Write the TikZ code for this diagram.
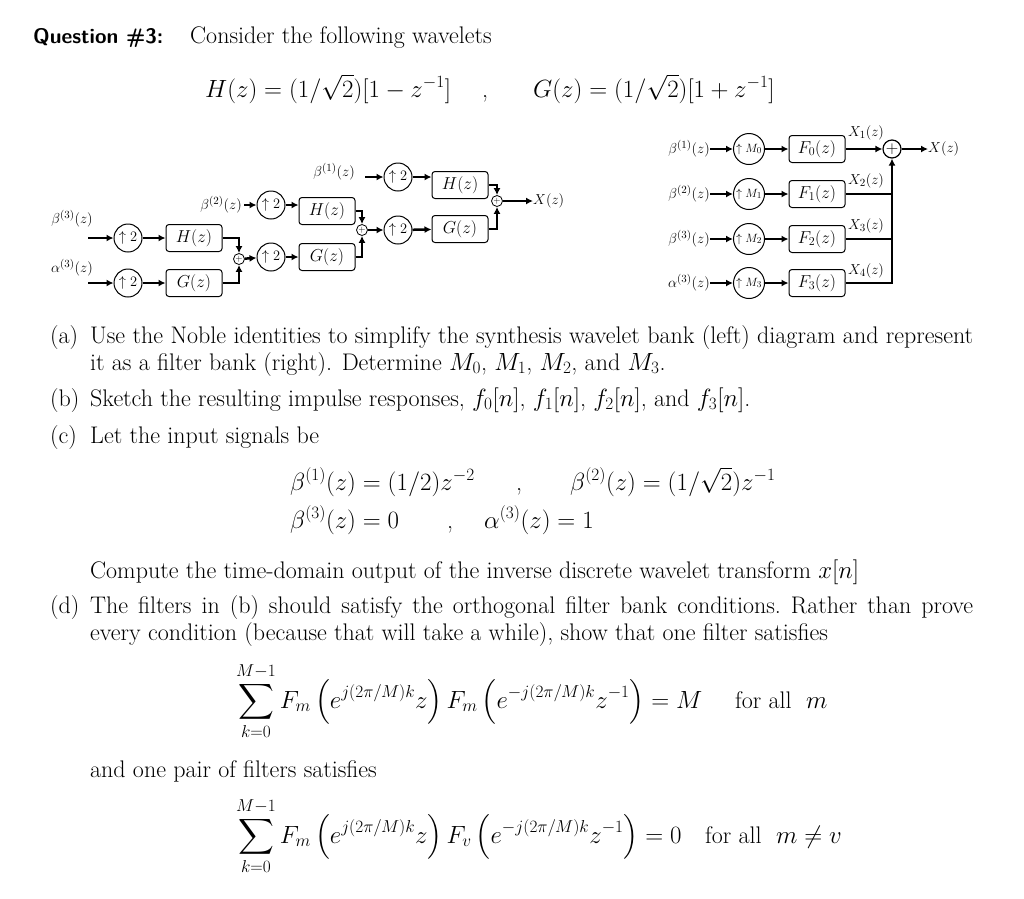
\documentclass[tikz,border=0pt]{standalone}
\usepackage{amsmath}
\usetikzlibrary{arrows.meta}
\begin{document}
\begin{tikzpicture}[x=1pt,y=-1pt,
 txt/.style={anchor=base west,inner sep=0pt,font=\fontsize{24}{29}\selectfont},
 up/.style={draw,circle,line width=1pt,minimum size=28pt,inner sep=0pt,font=\fontsize{15}{17}\selectfont},
 upm/.style={draw,circle,line width=1pt,minimum size=31pt,inner sep=0pt,font=\fontsize{13}{15}\selectfont},
 fb/.style={draw,rounded corners=3pt,line width=1pt,minimum width=56pt,minimum height=27pt,inner sep=0pt,font=\fontsize{17}{19}\selectfont},
 sm/.style={draw,circle,line width=0.8pt,minimum size=11pt,inner sep=0pt,font=\fontsize{9}{9}\selectfont},
 smb/.style={draw,circle,line width=1.2pt,minimum size=18pt,inner sep=0pt,font=\fontsize{18}{18}\selectfont},
 lab/.style={inner sep=0pt,font=\fontsize{15}{17}\selectfont},
 ar/.style={line width=2.5pt,-{Latex[length=7pt,width=7pt]}},
 ln/.style={line width=2.5pt}]
\useasboundingbox (0,0) rectangle (1024,898);
% header
\node[txt,font=\fontsize{21}{25}\selectfont] (q) at (33,43) {\sffamily\bfseries Question \#3:};
\node[txt] (c) at (190,43) {Consider the following wavelets};
\node[txt] (h) at (205,97) {$H(z)=(1/\sqrt{2})[1-z^{-1}]$};
\node[txt] (cm) at (482,97) {,};
\node[txt] (g) at (533,97) {$G(z)=(1/\sqrt{2})[1+z^{-1}]$};
% left diagram
\node[lab] (b3) at (72,219) {$\beta^{(3)}(z)$};
\node[lab] (a3) at (72,268) {$\alpha^{(3)}(z)$};
\coordinate (ib3) at (88,238);
\coordinate (ia3) at (88,283);
\node[up] (u1) at (128,238) {$\uparrow 2$};
\node[up] (u2) at (128,283) {$\uparrow 2$};
\node[fb] (h1) at (194,238) {$H(z)$};
\node[fb] (g1) at (194,283) {$G(z)$};
\node[sm] (s1) at (239,259) {$+$};
\node[up] (u3) at (271,257) {$\uparrow 2$};
\node[fb] (g2) at (327,257) {$G(z)$};
\node[lab,anchor=east] (b2) at (242,205) {$\beta^{(2)}(z)$};
\coordinate (ib2) at (244,205);
\node[up] (u4) at (271,205) {$\uparrow 2$};
\node[fb] (h2) at (327,211) {$H(z)$};
\node[sm] (s2) at (362,230) {$+$};
\node[up] (u5) at (398,230) {$\uparrow 2$};
\node[fb] (g3) at (460,229) {$G(z)$};
\node[lab,anchor=east] (b1) at (355,172) {$\beta^{(1)}(z)$};
\coordinate (ib1) at (365,177);
\node[up] (u6) at (398,177) {$\uparrow 2$};
\node[fb] (h3) at (460,185) {$H(z)$};
\node[sm] (s3) at (497,201) {$+$};
\node[lab,anchor=west] (x) at (533,201) {$X(z)$};
\draw[ar] (ib3) -- (u1); \draw[ar] (ia3) -- (u2);
\draw[ar] (u1) -- (h1); \draw[ar] (u2) -- (g1);
\draw[ar] (h1.east) -| (s1.north); \draw[ar] (g1.east) -| (s1.south);
\draw[ar] (s1) -- (u3); \draw[ar] (u3) -- (g2);
\draw[ar] (ib2) -- (u4); \draw[ar] (u4) -- (u4 -| h2.west);
\draw[ar] (h2.east) -| (s2.north); \draw[ar] (g2.east) -| (s2.south);
\draw[ar] (s2) -- (u5); \draw[ar] (u5) -- (g3);
\draw[ar] (ib1) -- (u6); \draw[ar] (u6) -- (u6 -| h3.west);
\draw[ar] (h3.east) -| (s3.north); \draw[ar] (g3.east) -| (s3.south);
\draw[ar] (s3) -- (x);
% right diagram
\foreach \i/\y/\l in {0/149/\beta^{(1)}(z),1/194/\beta^{(2)}(z),2/239/\beta^{(3)}(z),3/283/\alpha^{(3)}(z)}{
 \node[lab,anchor=east] (in\i) at (710,\y) {$\l$};
 \node[upm] (m\i) at (749,\y) {$\uparrow M_{\i}$};
 \node[fb] (f\i) at (817,\y) {$F_{\i}(z)$};
 \draw[ar] (in\i) -- (m\i);
 \draw[ar] (m\i) -- (f\i);
}
\node[smb] (sr) at (892,149) {$+$};
\node[lab,anchor=west] (xr) at (928,149) {$X(z)$};
\draw[ar] (f0) -- (sr);
\draw[ar] (sr) -- (xr);
\draw[ln] (f1.east) -- (892,194);
\draw[ln] (f2.east) -- (892,239);
\draw[ar] (f3.east) -| (sr.south);
\foreach \i/\y in {1/133,2/181,3/226,4/271}{\node[lab] (xl\i) at (866,\y) {$X_{\i}(z)$};}
% questions
\node[txt] (pa) at (50,343) {(a)};
\node[txt] (ta1) at (90,343) {\makebox[883pt][s]{Use the Noble identities to simplify the synthesis wavelet bank (left) diagram and represent}};
\node[txt] (ta2) at (90,370) {it as a filter bank (right). Determine $M_0$, $M_1$, $M_2$, and $M_3$.};
\node[txt] (pb) at (50,406) {(b)};
\node[txt] (tb) at (90,406) {Sketch the resulting impulse responses, $f_0[n]$, $f_1[n]$, $f_2[n]$, and $f_3[n]$.};
\node[txt] (pc) at (50,443) {(c)};
\node[txt] (tc) at (90,443) {Let the input signals be};
\node[txt] (e1) at (290,490) {$\beta^{(1)}(z)=(1/2)z^{-2}$};
\node[txt] (e2) at (516,490) {,};
\node[txt] (e3) at (570,490) {$\beta^{(2)}(z)=(1/\sqrt{2})z^{-1}$};
\node[txt] (e4) at (290,528) {$\beta^{(3)}(z)=0$};
\node[txt] (e5) at (447,528) {,};
\node[txt] (e6) at (484,528) {$\alpha^{(3)}(z)=1$};
\node[txt] (tc2) at (90,578) {Compute the time-domain output of the inverse discrete wavelet transform $x[n]$};
\node[txt] (pd) at (50,613) {(d)};
\node[txt] (td1) at (90,613) {\makebox[883pt][s]{The filters in (b) should satisfy the orthogonal filter bank conditions.\ Rather than prove}};
\node[txt] (td2) at (90,640) {every condition (because that will take a while), show that one filter satisfies};
\node[txt] (s1e) at (236,708) {$\displaystyle\sum_{k=0}^{M-1}F_m\left(e^{j(2\pi/M)k}z\right)F_m\left(e^{-j(2\pi/M)k}z^{-1}\right)=M$};
\node[txt] (s1f) at (735,708) {for all\ \ $m$};
\node[txt] (t3) at (90,777) {and one pair of filters satisfies};
\node[txt] (s2e) at (236,843) {$\displaystyle\sum_{k=0}^{M-1}F_m\left(e^{j(2\pi/M)k}z\right)F_v\left(e^{-j(2\pi/M)k}z^{-1}\right)=0$};
\node[txt] (s2f) at (705,843) {for all\ \ $m\neq v$};
\end{tikzpicture}
\end{document}
